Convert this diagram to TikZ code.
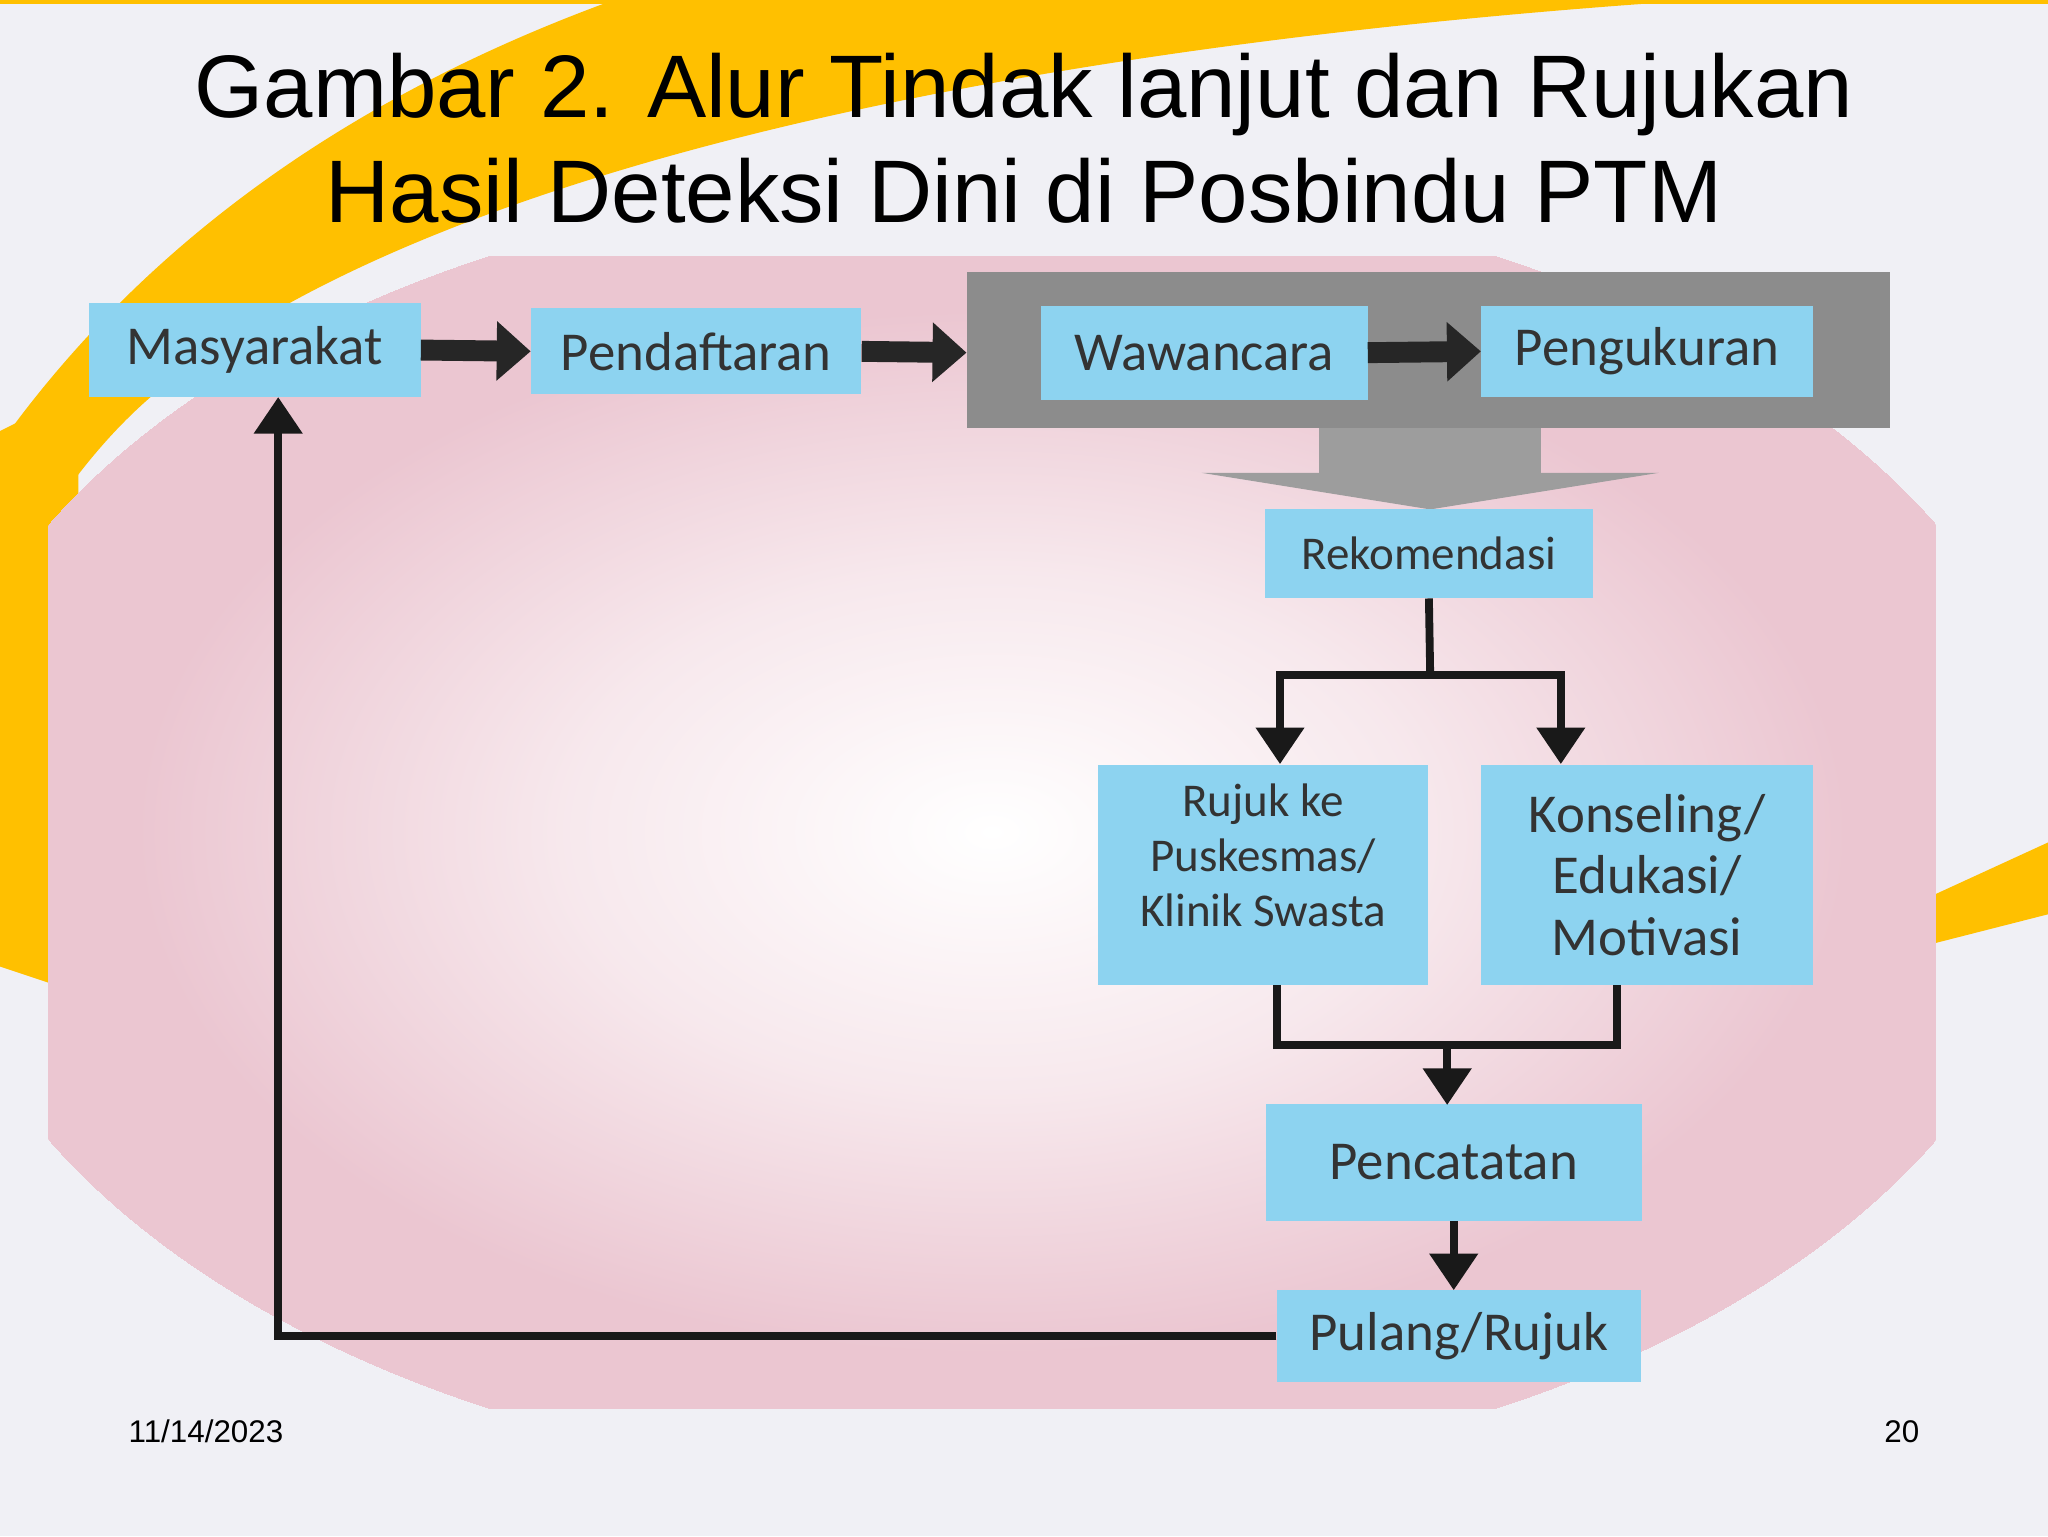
\documentclass[tikz,border=0pt]{standalone}
\usepackage{fontspec}
\setmainfont{Liberation Sans}
\newfontfamily\boxfont{Carlito}
\usetikzlibrary{arrows.meta}
\definecolor{bg}{HTML}{F0F0F5}
\definecolor{yel}{HTML}{FFC000}
\definecolor{bluebox}{HTML}{8DD3F0}
\definecolor{pinkbg}{HTML}{EBC6D1}
\definecolor{grayp}{HTML}{8C8C8C}
\pgfdeclareradialshading{panelshade}{\pgfpoint{0cm}{0cm}}{color(0cm)=(white); color(0.4cm)=(white!60!pinkbg); color(0.8cm)=(pinkbg); color(1cm)=(pinkbg)}
\tikzset{
 bx/.style={fill=bluebox, draw=none, inner sep=0pt, font=\boxfont\fontsize{42}{48}\selectfont, text=black!80, align=center},
 fat/.style={line width=16pt, black!85, -{Triangle[length=26pt,width=44pt]}},
 ln/.style={line width=6pt, black!90},
 lnarr/.style={line width=6pt, black!90, -{Triangle[length=28pt,width=36pt]}}
}
\begin{document}
\begin{tikzpicture}[x=1pt,y=-1pt]
\useasboundingbox (0,0) rectangle (1568,1176);
\fill[bg] (0,0) rectangle (1568,1176);
% yellow swoosh
\fill[yel] (470,0) -- (1300,0) .. controls (700,40) and (300,150) .. (120,300) .. controls (60,350) and (20,420) .. (0,460) -- (0,340) .. controls (100,200) and (250,80) .. (470,0) -- cycle;
\fill[yel] (0,330) -- (60,300) -- (60,760) -- (0,740) -- cycle;
\fill[yel] (0,0) rectangle (1568,3);
\fill[yel] (1470,690) -- (1568,645) -- (1568,700) -- (1470,725) -- cycle;
% panel
\shade[shading=panelshade] (37,196) rectangle (1482,1078);
% title
\node[font=\fontsize{68}{80}\selectfont, align=center] (title) at (784,106) {Gambar 2. Alur Tindak lanjut dan Rujukan\\Hasil Deteksi Dini di Posbindu PTM};
% gray group
\fill[grayp] (740,208) rectangle (1447,328);
\fill[grayp!85] (1010,328) rectangle (1180,362);
\fill[grayp!85] (920,362) -- (1270,362) -- (1095,390) -- cycle;
% boxes
\node[bx, minimum width=254pt, minimum height=72pt] (mas) at (195,268) {Masyarakat};
\node[bx, minimum width=253pt, minimum height=66pt] (pen) at (533,269) {Pendaftaran};
\node[bx, minimum width=250pt, minimum height=72pt] (waw) at (922,270) {Wawancara};
\node[bx, minimum width=254pt, minimum height=70pt] (ukur) at (1261,269) {Pengukuran};
\coordinate (grp) at (740,270);
\node[bx, minimum width=251pt, minimum height=68pt, font=\boxfont\fontsize{36}{42}\selectfont] (rek) at (1094,424) {Rekomendasi};
\node[bx, minimum width=252pt, minimum height=169pt, font=\boxfont\fontsize{36}{42}\selectfont] (ruj) at (967,670) {Rujuk ke\\Puskesmas/\\Klinik Swasta\\[-12pt]~};
\node[bx, minimum width=254pt, minimum height=169pt, font=\boxfont\fontsize{42}{47}\selectfont] (kon) at (1261,670) {Konseling/\\Edukasi/\\Motivasi};
\node[bx, minimum width=288pt, minimum height=89pt] (cat) at (1113,890) {Pencatatan};
\node[bx, minimum width=279pt, minimum height=70pt] (pul) at (1117,1023) {Pulang/Rujuk};
% arrows
\draw[fat] (mas.east) -- (pen.west);
\draw[fat] (pen.east) -- (grp);
\draw[fat] (waw.east) -- (ukur.west);
\coordinate (s1) at (1095,517);
\draw[ln] (rek.south) -- (s1);
\draw[lnarr] (s1) -| (980,585);
\draw[lnarr] (s1) -| (1195,585);
\coordinate (m1) at (1108,800);
\draw[ln] (978,754) |- (m1);
\draw[ln] (1238,754) |- (m1);
\draw[lnarr] (m1) -- (1108,846);
\draw[lnarr] (cat.south) -- (pul.north -| cat.south);
\coordinate (up) at (213,304);
\draw[lnarr] (pul.west) -| (up);
% footer
\node[font=\fontsize{24}{28}\selectfont, anchor=west] (date) at (95,1096) {11/14/2023};
\node[font=\fontsize{24}{28}\selectfont, anchor=east] (pg) at (1473,1096) {20};
\end{tikzpicture}
\end{document}
